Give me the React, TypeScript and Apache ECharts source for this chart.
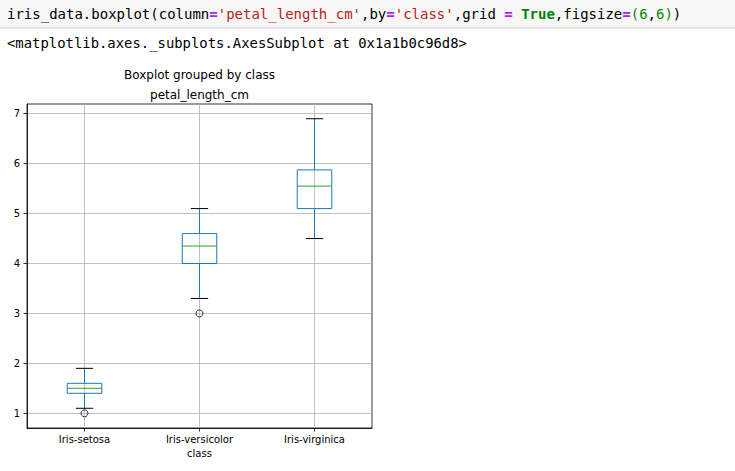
import React, { useEffect, useRef } from "react";
import * as echarts from "echarts";

const CATEGORIES = ["Iris-setosa", "Iris-versicolor", "Iris-virginica"];
// [min whisker, Q1, median, Q3, max whisker]
const WHISKER_LOW = [1.1, 3.3, 4.5];
const Q1 = [1.4, 4.0, 5.1];
const MEDIAN = [1.5, 4.35, 5.55];
const Q3 = [1.6, 4.6, 5.875];
const WHISKER_HIGH = [1.9, 5.1, 6.9];
// outliers: [category position (1-based), value]
const OUTLIERS: [number, number][] = [
  [1, 1.0],
  [2, 3.0],
];
const Y_TICKS = [1, 2, 3, 4, 5, 6, 7];
const X_TICKS = [1, 2, 3];

const TITLE = "Boxplot grouped by class";
const SUBTITLE = "petal_length_cm";
const X_NAME = "class";
const OUTPUT_TEXT = "<matplotlib.axes._subplots.AxesSubplot at 0x1a1b0c96d8>";

const BLUE = "#1f77b4";
const GREEN = "#2ca02c";
const BOX_WIDTH = 0.3;

export default function App() {
  const ref = useRef<HTMLDivElement>(null);

  useEffect(() => {
    if (!ref.current) return;
    const chart = echarts.init(ref.current, null, { renderer: "svg" });

    const boxData = CATEGORIES.map((_, i) => [
      i + 1,
      WHISKER_LOW[i],
      Q1[i],
      MEDIAN[i],
      Q3[i],
      WHISKER_HIGH[i],
    ]);

    const codeRich =
      "{t|iris_data.boxplot(column}{p|=}{s|'petal_length_cm'}{t|,by}{p|=}{s|'class'}{t|,grid }{p|=}{t| }{k|True}{t|,figsize}{p|=}{n|(6}{t|,}{n|6)}{t|)}";

    const mono = "DejaVu Sans Mono";

    const option: any = {
      animation: false,
      backgroundColor: "#ffffff",
      grid: {
        left: 27,
        top: 104,
        width: 345,
        height: 324,
        show: true,
        borderColor: "#000",
        borderWidth: 0.8,
        backgroundColor: "transparent",
      },
      xAxis: {
        type: "value",
        min: 0.5,
        max: 3.5,
        splitNumber: 3,
        name: X_NAME,
        nameLocation: "middle",
        nameGap: 20,
        nameTextStyle: { fontFamily: "DejaVu Sans", fontSize: 10, color: "#000" },
        axisLine: { show: true, onZero: false, lineStyle: { color: "#000", width: 0.8 } },
        axisTick: {
          show: true,
          customValues: X_TICKS,
          length: 3.5,
          lineStyle: { color: "#000", width: 0.8 },
        },
        axisLabel: {
          customValues: X_TICKS,
          margin: 6,
          fontFamily: "DejaVu Sans",
          fontSize: 10,
          color: "#000",
          formatter: (v: number) => CATEGORIES[Math.round(v) - 1] ?? "",
        },
        splitLine: { show: true, lineStyle: { color: "#b0b0b0", width: 0.8 } },
      },
      yAxis: {
        type: "value",
        min: 0.705,
        max: 7.195,
        splitNumber: 6,
        axisLine: { show: true, onZero: false, lineStyle: { color: "#000", width: 0.8 } },
        axisTick: {
          show: true,
          customValues: Y_TICKS,
          length: 3.5,
          lineStyle: { color: "#000", width: 0.8 },
        },
        axisLabel: {
          customValues: Y_TICKS,
          margin: 7,
          fontFamily: "DejaVu Sans",
          fontSize: 10,
          color: "#000",
        },
        splitLine: { show: true, lineStyle: { color: "#b0b0b0", width: 0.8 } },
      },
      series: [
        {
          type: "custom",
          data: boxData,
          encode: { x: 0, y: [1, 2, 3, 4, 5] },
          renderItem: (_params: any, api: any) => {
            const x = api.value(0);
            const lo = api.coord([x, api.value(1)]);
            const q1 = api.coord([x, api.value(2)]);
            const med = api.coord([x, api.value(3)]);
            const q3 = api.coord([x, api.value(4)]);
            const hi = api.coord([x, api.value(5)]);
            const w = api.size([BOX_WIDTH, 0])[0];
            const cw = w / 4;
            const cx = lo[0];
            return {
              type: "group",
              children: [
                { type: "line", shape: { x1: cx, y1: lo[1], x2: cx, y2: q1[1] }, style: { stroke: BLUE, lineWidth: 1 } },
                { type: "line", shape: { x1: cx, y1: q3[1], x2: cx, y2: hi[1] }, style: { stroke: BLUE, lineWidth: 1 } },
                { type: "line", shape: { x1: cx - cw, y1: lo[1], x2: cx + cw, y2: lo[1] }, style: { stroke: "#000", lineWidth: 1 } },
                { type: "line", shape: { x1: cx - cw, y1: hi[1], x2: cx + cw, y2: hi[1] }, style: { stroke: "#000", lineWidth: 1 } },
                {
                  type: "rect",
                  shape: { x: cx - w / 2, y: q3[1], width: w, height: q1[1] - q3[1] },
                  style: { fill: "none", stroke: BLUE, lineWidth: 1 },
                },
                { type: "line", shape: { x1: cx - w / 2, y1: med[1], x2: cx + w / 2, y2: med[1] }, style: { stroke: GREEN, lineWidth: 1 } },
              ],
            };
          },
          z: 3,
        },
        {
          type: "scatter",
          data: OUTLIERS,
          symbol: "circle",
          symbolSize: 7,
          itemStyle: { color: "transparent", borderColor: "#000", borderWidth: 1 },
          z: 4,
        },
      ],
      graphic: [
        {
          type: "rect",
          shape: { x: -1, y: -1, width: 737, height: 29 },
          style: { fill: "#f7f7f7", stroke: "#cfcfcf", lineWidth: 1 },
          silent: true,
        },
        {
          type: "text",
          x: 7,
          y: 14,
          style: {
            text: codeRich,
            font: `14px '${mono}'`,
            verticalAlign: "middle",
            rich: {
              t: { fontFamily: mono, fontSize: 14, fill: "#000" },
              p: { fontFamily: mono, fontSize: 14, fill: "#aa22ff", fontWeight: "bold" },
              s: { fontFamily: mono, fontSize: 14, fill: "#ba2121" },
              k: { fontFamily: mono, fontSize: 14, fill: "#008000", fontWeight: "bold" },
              n: { fontFamily: mono, fontSize: 14, fill: "#008800" },
            },
          },
        },
        {
          type: "text",
          x: 7,
          y: 43,
          style: {
            text: OUTPUT_TEXT,
            fontFamily: mono,
            fontSize: 13.9,
            fill: "#000",
            verticalAlign: "middle",
          },
        },
        {
          type: "text",
          x: 199.5,
          y: 75,
          style: {
            text: TITLE,
            fontFamily: "DejaVu Sans",
            fontSize: 12,
            fill: "#000",
            align: "center",
            verticalAlign: "middle",
          },
        },
        {
          type: "text",
          x: 199.5,
          y: 95,
          style: {
            text: SUBTITLE,
            fontFamily: "DejaVu Sans",
            fontSize: 12,
            fill: "#000",
            align: "center",
            verticalAlign: "middle",
          },
        },
      ],
    };

    chart.setOption(option);
    return () => chart.dispose();
  }, []);

  return (
    <div
      ref={ref}
      style={{ position: "absolute", left: 0, top: 0, width: 735, height: 471 }}
    />
  );
}
